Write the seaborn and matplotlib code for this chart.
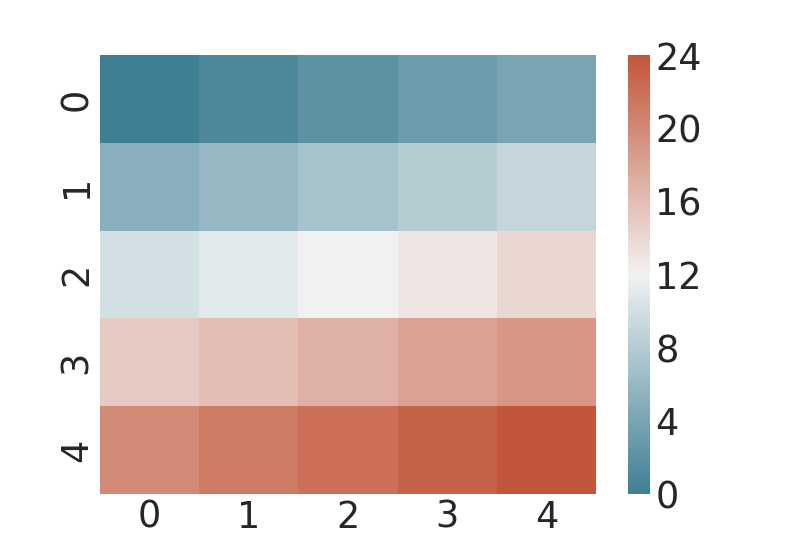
import numpy as np
import pandas as pd
import seaborn as sns
import matplotlib
matplotlib.use("Agg")
import matplotlib.pyplot as plt

rows = [0, 1, 2, 3, 4]
cols = [0, 1, 2, 3, 4]
row0 = [0, 1, 2, 3, 4]
row1 = [5, 6, 7, 8, 9]
row2 = [10, 11, 12, 13, 14]
row3 = [15, 16, 17, 18, 19]
row4 = [20, 21, 22, 23, 24]
cbar_ticks = [0, 4, 8, 12, 16, 20, 24]

data = pd.DataFrame([row0, row1, row2, row3, row4], index=rows, columns=cols)

sns.set_theme(style="white", font_scale=2.4)
fig = plt.figure(figsize=(8, 5.5), dpi=100)
ax = fig.add_axes([0.125, 0.102, 0.62, 0.798])
cax = fig.add_axes([0.785, 0.102, 0.028, 0.798])
cmap = sns.diverging_palette(220, 20, as_cmap=True)
sns.heatmap(data, cmap=cmap, ax=ax, cbar_ax=cax, vmin=0, vmax=24,
            cbar_kws={"ticks": cbar_ticks})
ax.tick_params(axis="y", rotation=90, length=0)
ax.tick_params(axis="x", length=0)
cax.tick_params(length=0)
cax.set_frame_on(False)
fig.savefig("out.png", dpi=100)
